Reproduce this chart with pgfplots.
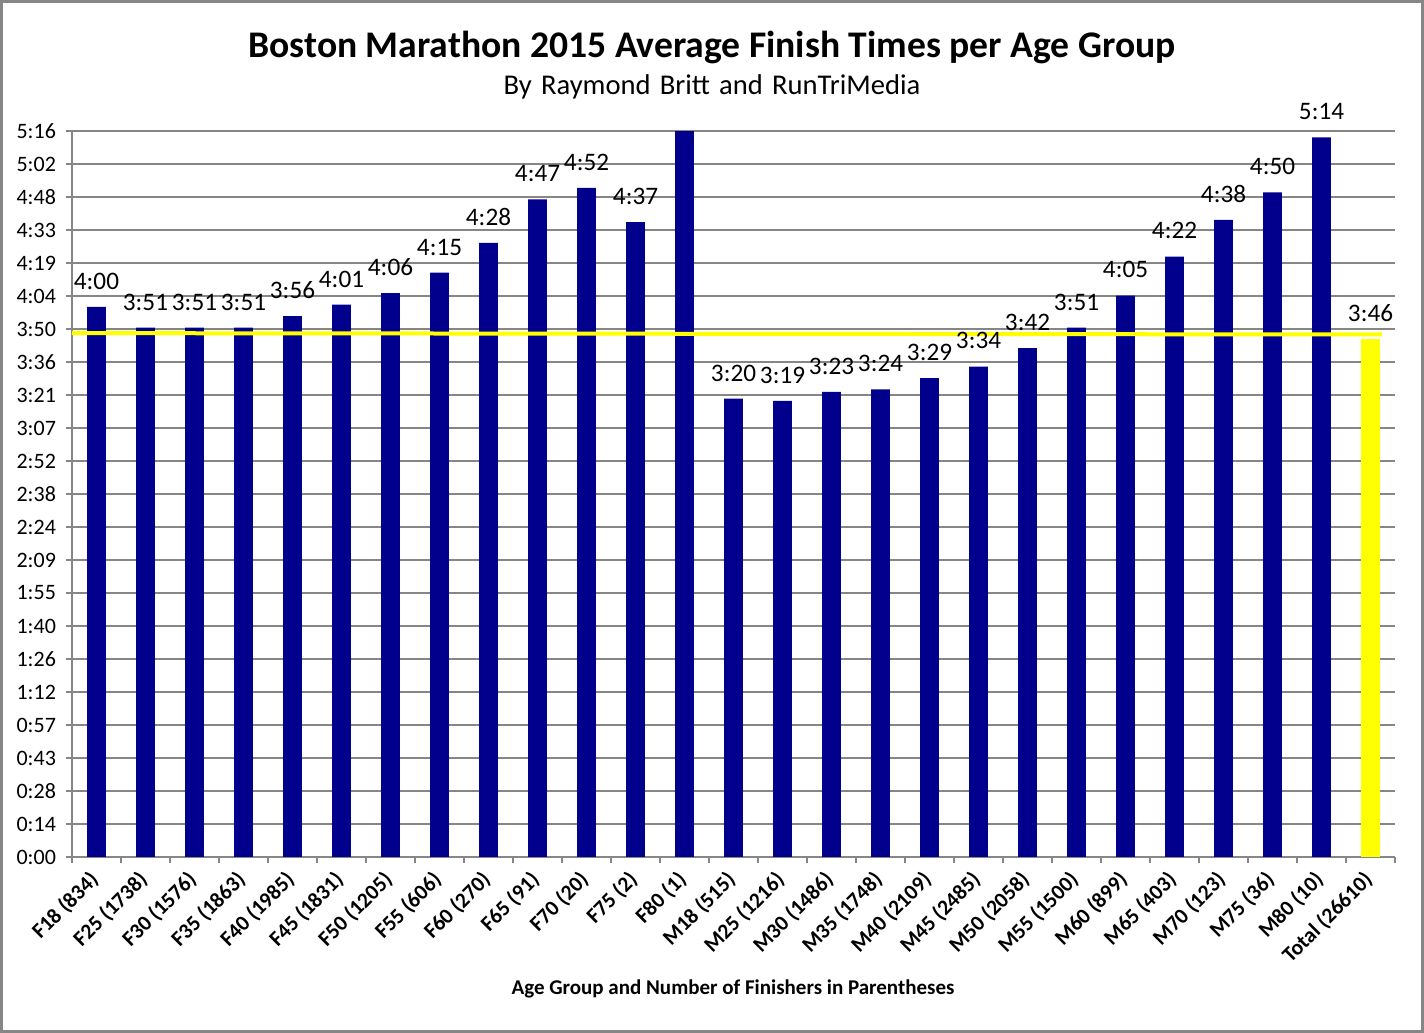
\documentclass[border=0pt]{standalone}
\usepackage{pgfplots}
\pgfplotsset{compat=1.18}
\usepackage{fontspec}
\setmainfont{Carlito}
\definecolor{barblue}{RGB}{0,0,140}
\definecolor{gridgray}{RGB}{134,134,134}
\definecolor{ylw}{RGB}{255,255,0}
\begin{document}
\begin{tikzpicture}
\useasboundingbox (0,0) rectangle (712pt,516.5pt);
\fill[white] (0,0) rectangle (712pt,516.5pt);
\draw[gridgray, line width=1.5pt] (0.75pt,0.75pt) rectangle (711.25pt,515.75pt);
\begin{axis}[
  at={(36pt,88pt)}, anchor=south west,
  scale only axis, width=661.5pt, height=363pt,
  xmin=-0.5, xmax=26.5, ymin=0, ymax=316.8,
  clip=false,
  ybar, bar width=9.4pt, bar shift=0pt,
  axis x line*=bottom, axis y line*=left,
  axis line style={gridgray, line width=1pt, -},
  ytick={0,14.4,28.8,43.2,57.6,72,86.4,100.8,115.2,129.6,144,158.4,172.8,187.2,201.6,216,230.4,244.8,259.2,273.6,288,302.4,316.8},
  yticklabels={0:00,0:14,0:28,0:43,0:57,1:12,1:26,1:40,1:55,2:09,2:24,2:38,2:52,3:07,3:21,3:36,3:50,4:04,4:19,4:33,4:48,5:02,5:16},
  ymajorgrids=true,
  grid style={gridgray, line width=1pt},
  xtick={0,...,26},
  xticklabels={F18 (834),F25 (1738),F30 (1576),F35 (1863),F40 (1985),F45 (1831),F50 (1205),F55 (606),F60 (270),F65 (91),F70 (20),F75 (2),F80 (1),M18 (515),M25 (1216),M30 (1486),M35 (1748),M40 (2109),M45 (2485),M50 (2058),M55 (1500),M60 (899),M65 (403),M70 (123),M75 (36),M80 (10),Total (26610)},
  minor xtick={-0.5,0.5,...,26.5},
  tick align=outside,
  tick style={gridgray, line width=1pt},
  major tick length=3pt,
  minor tick length=3pt,
  major x tick style={draw=none},
  yticklabel style={font=\fontsize{11}{13}\selectfont, xshift=-1.5pt},
  xticklabel style={font=\bfseries\fontsize{10.8}{13}\selectfont, yshift=-6pt, xshift=0pt, rotate=45, anchor=east, inner sep=1pt},
  nodes near coords,
  point meta=explicit symbolic,
  every node near coord/.append style={font=\fontsize{12.6}{15}\selectfont, anchor=south, inner sep=0pt, yshift=8.5pt, text=black},
]
\addplot[fill=barblue, draw=none] coordinates {
 (0,240) [4:00] (1,231) [3:51] (2,231) [3:51] (3,231) [3:51] (4,236) [3:56]
 (5,241) [4:01] (6,246) [4:06] (7,255) [4:15] (8,268) [4:28] (9,287) [4:47]
 (10,292) [4:52] (11,277) [4:37]
 (13,200) [3:20] (14,199) [3:19] (15,203) [3:23] (16,204) [3:24] (17,209) [3:29]
 (18,214) [3:34] (19,222) [3:42] (20,231) [3:51] (21,245) [4:05] (22,262) [4:22]
 (23,278) [4:38] (24,290) [4:50] (25,314) [5:14]
};
\addplot[fill=barblue, draw=none, nodes near coords={}] coordinates {(12,316.8) []};
\addplot[fill=ylw, draw=none] coordinates {(26,226) [3:46]};
\addplot[sharp plot, ylw, line width=2pt, nodes near coords={}, mark=none] coordinates {(-0.5,228.6) (26.23,228.0)};
\end{axis}
\node[font=\bfseries\fontsize{18.8}{22}\selectfont, anchor=base] at (356pt,487.5pt) {Boston Marathon 2015 Average Finish Times per Age Group};
\node[font=\fontsize{14.3}{17}\selectfont, anchor=base] at (356pt,469pt) {\spaceskip=0.32em By Raymond Britt and RunTriMedia};
\node[font=\bfseries\fontsize{10.5}{12}\selectfont, anchor=base] at (366.5pt,19pt) {Age Group and Number of Finishers in Parentheses};
\end{tikzpicture}
\end{document}
